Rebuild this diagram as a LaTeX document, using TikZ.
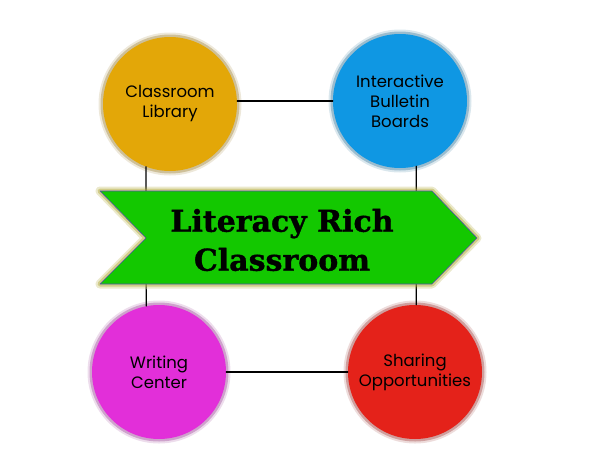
\documentclass[tikz,border=0pt]{standalone}
\usepackage{fontspec}
\newfontfamily\bubblefont{Poppins}
\newfontfamily\titlefont[FakeBold=1.2]{DejaVu Serif}
\definecolor{libcol}{HTML}{E3A708}
\definecolor{boardcol}{HTML}{0F97E3}
\definecolor{writecol}{HTML}{E22FD9}
\definecolor{sharecol}{HTML}{E4221A}
\definecolor{corecol}{HTML}{13C800}
\begin{document}
\begin{tikzpicture}[x=1pt, y=-1pt, line join=round, line cap=round,
	bubble/.style={circle, minimum size=134pt, inner sep=0pt, align=center, fill=#1,
		preaction={draw=#1!60!black, line width=9pt, opacity=.15},
		preaction={draw=#1!60!black, line width=5pt, opacity=.3},
		font=\bubblefont\fontsize{16.5}{20}\selectfont},
	link/.style={black, line width=1.2pt}]
	\useasboundingbox (0,0) rectangle (600,450);
	\foreach \n/\x/\y/\c/\t in {lib/170/104/libcol/{Classroom\\Library},
		board/400/101/boardcol/{Interactive\\Bulletin\\Boards},
		writing/159/372/writecol/{Writing\\Center},
		sharing/415/372/sharecol/{Sharing\\Opportunities}}
		\node[bubble=\c] (\n) at (\x,\y) {\t};
	% connectors, the arrow hides their middle part
	\draw[link] (lib.east |- board.west) -- (board.west);
	\draw[link] (writing) -- (sharing);
	\draw[link] (lib.249) -- (writing.101);
	\draw[link] (board.284) -- (sharing.89);
	% centre arrow
	\draw[draw=olive!70!white, line width=9pt, opacity=.25] (100,191)--(432,191)--(477,238)--(432,284)--(100,284)--(146,238)--cycle;
	\draw[draw=olive!70!white, line width=5pt, opacity=.45] (100,191)--(432,191)--(477,238)--(432,284)--(100,284)--(146,238)--cycle;
	\filldraw[fill=corecol, draw=blue!35!gray, line width=.6pt] (100,191)--(432,191)--(477,238)--(432,284)--(100,284)--(146,238)--cycle;
	\node[align=center, font=\titlefont\bfseries\fontsize{30}{39}\selectfont] (core) at (282,240) {Literacy Rich\\Classroom};
\end{tikzpicture}
\end{document}
